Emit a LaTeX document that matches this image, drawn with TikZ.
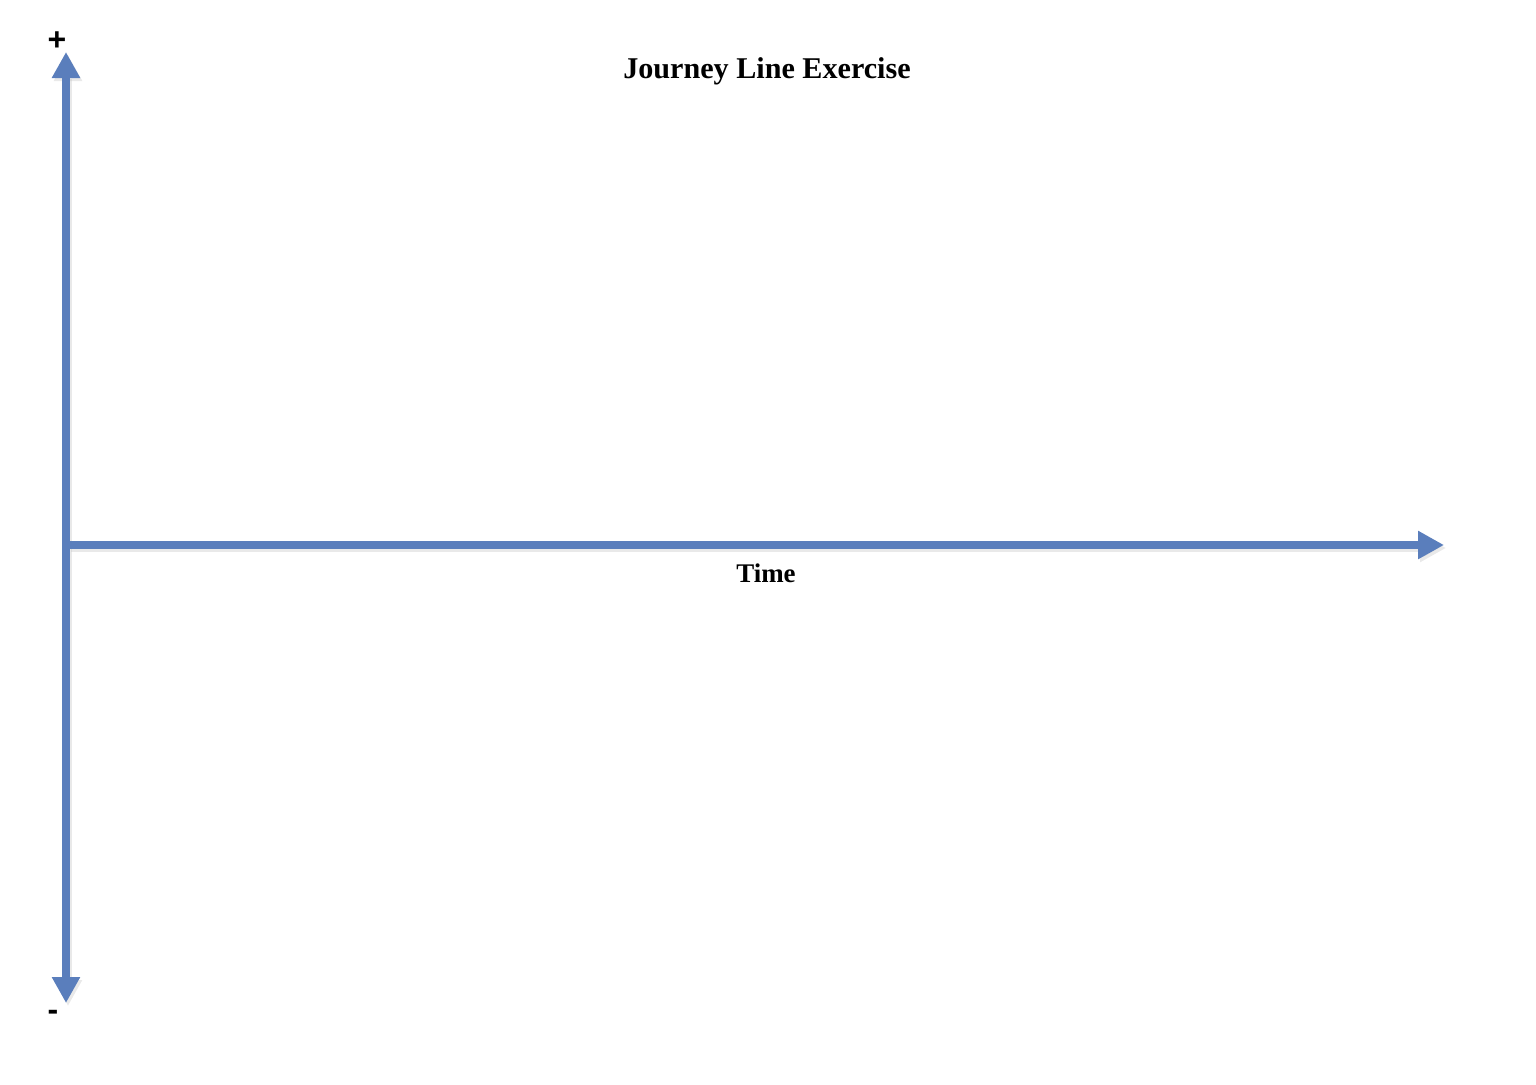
\documentclass[tikz,border=0pt]{standalone}
\usepackage{fontspec}
\setmainfont{Liberation Serif}
\newfontfamily\signfont{Liberation Sans}
\usetikzlibrary{arrows.meta}
\definecolor{axisblue}{HTML}{5A7EBC}
\begin{document}
\begin{tikzpicture}[x=0.75pt,y=-0.75pt,
  axis/.style={draw=axisblue,line width=5.4pt,
    arrows={-Triangle[length=19.5pt,width=20pt,fill=axisblue]}},
  axisshadow/.style={draw=black!25,opacity=0.35,line width=5.4pt,
    arrows={-Triangle[length=19.5pt,width=20pt]}},
  lbl/.style={font=\bfseries\fontsize{22.6}{26}\selectfont,inner sep=0pt},
  tlbl/.style={font=\bfseries\fontsize{20.2}{24}\selectfont,inner sep=0pt},
  sign/.style={font=\signfont\bfseries\fontsize{24}{26}\selectfont,inner sep=0pt}]
\useasboundingbox (0,0) rectangle (1536,1085);
\coordinate (top) at (66,52);
\coordinate (bottom) at (66,1003);
\coordinate (origin) at (69,545);
\coordinate (right) at (1444,545);
% shadows
\draw[axisshadow,arrows={Triangle[length=19.5pt,width=20pt]-Triangle[length=19.5pt,width=20pt]}] ([shift={(2,3)}]bottom) -- ([shift={(2,3)}]top);
\draw[axisshadow] ([shift={(2,3)}]origin) -- ([shift={(2,3)}]right);
% axes
\draw[axis,arrows={Triangle[length=19.5pt,width=20pt,fill=axisblue]-Triangle[length=19.5pt,width=20pt,fill=axisblue]}] (bottom) -- (top);
\draw[axis] (origin) -- (right);
\node[lbl,anchor=base] (title) at (767,78) {Journey Line Exercise};
\node[tlbl,anchor=base] (time) at (766,582) {Time};
\node[sign] (plus) at (57,41) {+};
\node[sign] (minus) at (53,1015) {-};
\end{tikzpicture}
\end{document}
